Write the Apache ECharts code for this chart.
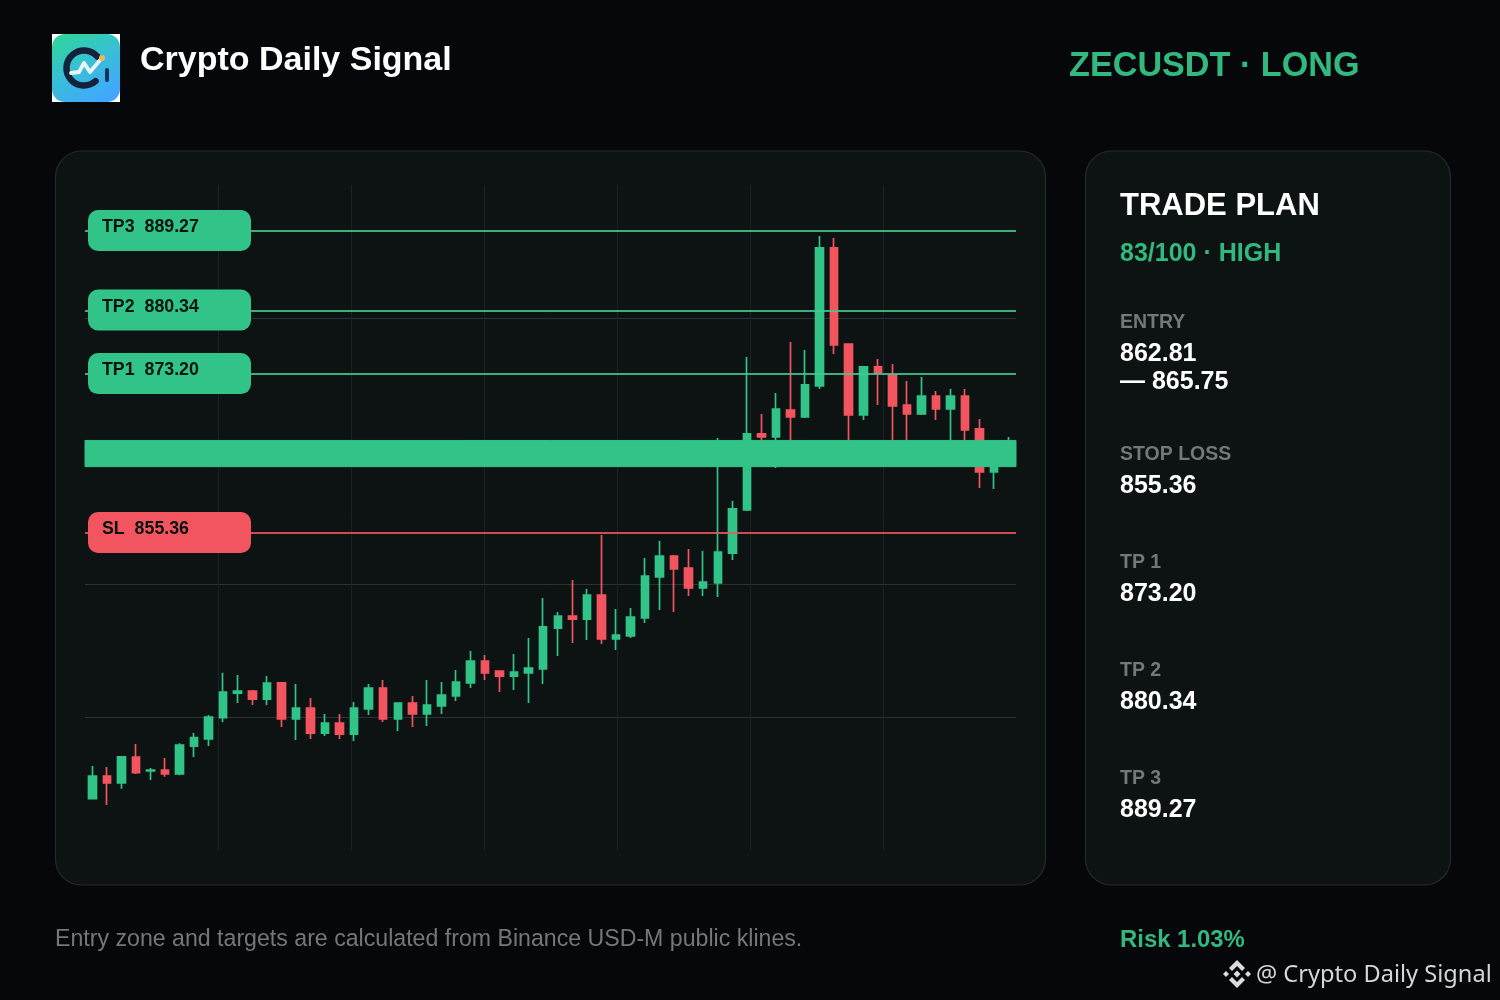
<!DOCTYPE html>
<html>
<head>
<meta charset="utf-8">
<style>html,body{margin:0;padding:0;background:#05070a}#c{width:1500px;height:1000px}</style>
<script src="https://cdn.jsdelivr.net/npm/echarts@6/dist/echarts.min.js"></script>
</head>
<body>
<div id="c"></div>
<script>
const opens = [825.53,828.08,827.29,830.21,828.64,828.75,828.30,831.44,832.23,834.62,837.39,837.62,836.72,838.55,834.48,835.71,832.90,834.03,832.79,835.60,837.95,834.48,836.27,835.04,835.94,837.06,838.52,840.99,839.86,839.30,839.64,840.09,844.69,846.04,845.70,848.40,843.46,843.80,845.82,850.42,852.78,851.43,849.19,849.75,853.11,857.94,866.48,866.14,869.17,868.39,871.87,887.36,876.58,868.61,874.00,873.10,869.73,868.72,870.74,869.28,870.74,867.04,862.21,864.12];
const closes = [828.08,827.29,830.24,828.45,828.75,828.30,831.55,832.38,834.70,837.51,837.62,836.72,838.52,834.48,835.71,832.90,834.03,832.79,835.71,837.95,834.48,836.27,835.04,836.05,837.17,838.63,840.99,839.64,839.30,839.75,840.20,844.81,846.04,845.70,848.40,843.46,843.91,845.93,850.53,852.78,851.32,849.19,849.86,853.22,858.06,866.48,866.14,869.28,868.39,871.98,887.36,876.47,868.61,874.00,873.32,869.62,868.72,870.74,869.28,870.74,866.93,862.21,864.12,865.69];
const lows = [825.49,824.82,826.65,828.30,827.63,828.00,828.15,830.21,831.44,834.11,836.27,836.05,836.05,833.58,832.12,832.23,832.57,832.23,832.00,834.93,834.14,833.13,833.58,833.69,835.04,836.50,837.95,838.85,837.51,837.73,836.27,838.41,841.55,843.01,843.35,842.90,842.22,843.57,845.25,846.71,846.49,848.29,848.29,848.17,852.33,857.83,865.69,862.66,865.24,868.27,871.53,875.46,865.24,868.05,869.73,865.24,865.24,868.61,868.05,865.24,865.24,860.41,860.30,863.60];
const highs = [829.20,829.09,830.26,831.67,828.97,830.10,831.75,832.90,834.93,839.67,839.42,837.73,839.30,838.63,838.41,836.83,835.04,835.04,836.39,838.41,838.85,836.30,837.06,838.85,838.63,839.98,842.11,841.66,839.92,841.78,843.57,848.06,846.49,850.08,849.07,855.14,846.83,846.94,852.55,854.46,852.89,853.56,853.34,866.03,858.95,875.12,868.72,871.08,876.81,875.91,888.71,888.48,876.60,874.00,874.90,874.34,872.43,872.88,871.31,871.53,871.53,868.16,864.70,866.14];
const targetNames = ['TP3','TP2','TP1'];
const targetValues = [889.27,880.34,873.20];
const stopName = 'SL';
const stopValue = 855.36;
const entryZone = [862.81,865.75];
const yRange = [819.77,894.43];

const UP='#31c387', DOWN='#f2555f', PANEL='#0c1312';
const sans='"Liberation Sans", Arial, sans-serif';

function txt(text,x,y,size,fill,weight,family){
  return {type:'text',silent:true,style:{text,x,y,fill,font:(weight||'bold')+' '+size+'px '+(family||sans),verticalAlign:'middle',align:'left'}};
}
function panel(x,y,w,h){
  return {type:'rect',silent:true,shape:{x,y,width:w,height:h,r:26},style:{fill:PANEL,stroke:'#252b2c',lineWidth:1.2}};
}
const logo=[
  {type:'rect',silent:true,shape:{x:52,y:34,width:68,height:68},style:{fill:'#ffffff'}},
  {type:'rect',silent:true,shape:{x:52,y:34,width:68,height:68,r:13},style:{fill:new echarts.graphic.LinearGradient(0.15,0,0.7,1,[{offset:0,color:'#2fd49a'},{offset:0.5,color:'#38bfd8'},{offset:1,color:'#42a6fd'}])}},
  {type:'arc',silent:true,shape:{cx:84,cy:68,r:17.5,startAngle:-0.72,endAngle:0.85,clockwise:false},style:{stroke:'#13233b',fill:null,lineWidth:6.5,lineCap:'round'}},
  {type:'polyline',silent:true,shape:{points:[[71,73],[79,72],[84,63],[90,72],[101,59]]},style:{stroke:'#eaf6f6',fill:null,lineWidth:3.8,lineCap:'round',lineJoin:'round'}},
  {type:'circle',silent:true,shape:{cx:102,cy:58,r:3},style:{fill:'#f4b45f'}},
  {type:'rect',silent:true,shape:{x:105,y:68,width:4,height:14,r:2},style:{fill:'#13335a'}}
];
function wmPoly(points){return {type:'polygon',silent:true,shape:{points},style:{fill:'#dcdcdc'}};}
const cx=1237, cy=974;
const wm=[
  wmPoly([[cx,cy-14],[cx+8,cy-6],[cx+5,cy-3],[cx,cy-8],[cx-5,cy-3],[cx-8,cy-6]]),
  wmPoly([[cx,cy+14],[cx+8,cy+6],[cx+5,cy+3],[cx,cy+8],[cx-5,cy+3],[cx-8,cy+6]]),
  wmPoly([[cx,cy-3.5],[cx+3.5,cy],[cx,cy+3.5],[cx-3.5,cy]]),
  wmPoly([[cx-11,cy-3],[cx-8,cy],[cx-11,cy+3],[cx-14,cy]]),
  wmPoly([[cx+11,cy-3],[cx+14,cy],[cx+11,cy+3],[cx+8,cy]])
];

const labelRows=targetNames.map((n,i)=>[0,targetValues[i],n,UP]).concat([[0,stopValue,stopName,DOWN]]);
const chart=echarts.init(document.getElementById('c'));
chart.setOption({
  animation:false,
  backgroundColor:'#05070a',
  graphic:{elements:[
    panel(55.5,151,990,734),
    panel(1085.5,151,365,734),
    ...logo,
    txt('Crypto Daily Signal',140,60.5,34,'#ffffff'),
    txt('ZECUSDT · LONG',1069,66.5,34.2,'#31b97f'),
    txt('TRADE PLAN',1120,206,31,'#ffffff'),
    txt('83/100 · HIGH',1120,254,25,'#31b97f'),
    txt('ENTRY',1120,323,19.5,'#737878'),
    txt('862.81',1120,354,25,'#ffffff'),
    txt('— 865.75',1120,382,25,'#ffffff'),
    txt('STOP LOSS',1120,455,19.5,'#737878'),
    txt('855.36',1120,486,25,'#ffffff'),
    txt('TP 1',1120,563,19.5,'#737878'),
    txt('873.20',1120,594,25,'#ffffff'),
    txt('TP 2',1120,671,19.5,'#737878'),
    txt('880.34',1120,702,25,'#ffffff'),
    txt('TP 3',1120,779,19.5,'#737878'),
    txt('889.27',1120,810,25,'#ffffff'),
    txt('Entry zone and targets are calculated from Binance USD-M public klines.',55,940,23.15,'#737878','normal'),
    txt('Risk 1.03%',1120,940,23.9,'#31b97f'),
    ...wm,
    txt('@ Crypto Daily Signal',1256,975,23.6,'#d6d6d6','normal','"Noto Sans", sans-serif')
  ]},
  grid:{left:85,top:185,width:931,height:665,containLabel:false},
  xAxis:[
    {type:'category',data:opens.map((_,i)=>i),boundaryGap:true,show:true,axisLine:{show:false},axisTick:{show:false},axisLabel:{show:false},splitLine:{show:false}},
    {type:'value',min:0,max:7,interval:1,position:'top',z:1,axisLine:{show:false},axisTick:{show:false},axisLabel:{show:false},
     splitLine:{show:true,showMinLine:false,showMaxLine:false,lineStyle:{color:'#1b2224',width:1}}}
  ],
  yAxis:[
    {type:'value',min:yRange[0],max:yRange[1],axisLine:{show:false},axisTick:{show:false},axisLabel:{show:false},splitLine:{show:false}},
    {type:'value',min:0,max:5,interval:1,position:'right',z:1,axisLine:{show:false},axisTick:{show:false},axisLabel:{show:false},
     splitLine:{show:true,showMinLine:false,showMaxLine:false,lineStyle:{color:'#2d3333',width:1}}}
  ],
  series:[
    {type:'candlestick',xAxisIndex:0,yAxisIndex:0,z:3,silent:true,barWidth:8,
     data:opens.map((o,i)=>[o,closes[i],lows[i],highs[i]]),
     itemStyle:{color:UP,color0:DOWN,borderColor:UP,borderColor0:DOWN,borderWidth:1.7},
     markLine:{silent:true,symbol:'none',z:5,label:{show:false},animation:false,
       data:targetValues.map(v=>({yAxis:v,lineStyle:{color:'#45c98f',width:2,type:'solid',opacity:0.85}})).concat([{yAxis:stopValue,lineStyle:{color:DOWN,width:2,type:'solid',opacity:0.85}}])},
     markArea:{silent:true,z:6,label:{show:false},itemStyle:{color:UP,opacity:1,borderColor:UP,borderWidth:1},
       data:[[{yAxis:entryZone[0]},{yAxis:entryZone[1]}]]}
    },
    {type:'custom',xAxisIndex:1,yAxisIndex:0,z:7,silent:true,clip:false,
     encode:{x:0,y:1},
     data:labelRows,
     renderItem(params,api){
       const p=api.coord([api.value(0),api.value(1)]);
       const row=labelRows[params.dataIndex];
       return {type:'group',children:[
         {type:'rect',shape:{x:p[0]+3,y:p[1]-21,width:163,height:41,r:10},style:{fill:row[3]}},
         {type:'text',style:{x:p[0]+17,y:p[1]-3.5,text:row[2]+'  '+row[1].toFixed(2),fill:'#08140f',font:'bold 17.8px '+sans,verticalAlign:'middle',align:'left'}}
       ]};
     }
    }
  ]
});
</script>
</body>
</html>
